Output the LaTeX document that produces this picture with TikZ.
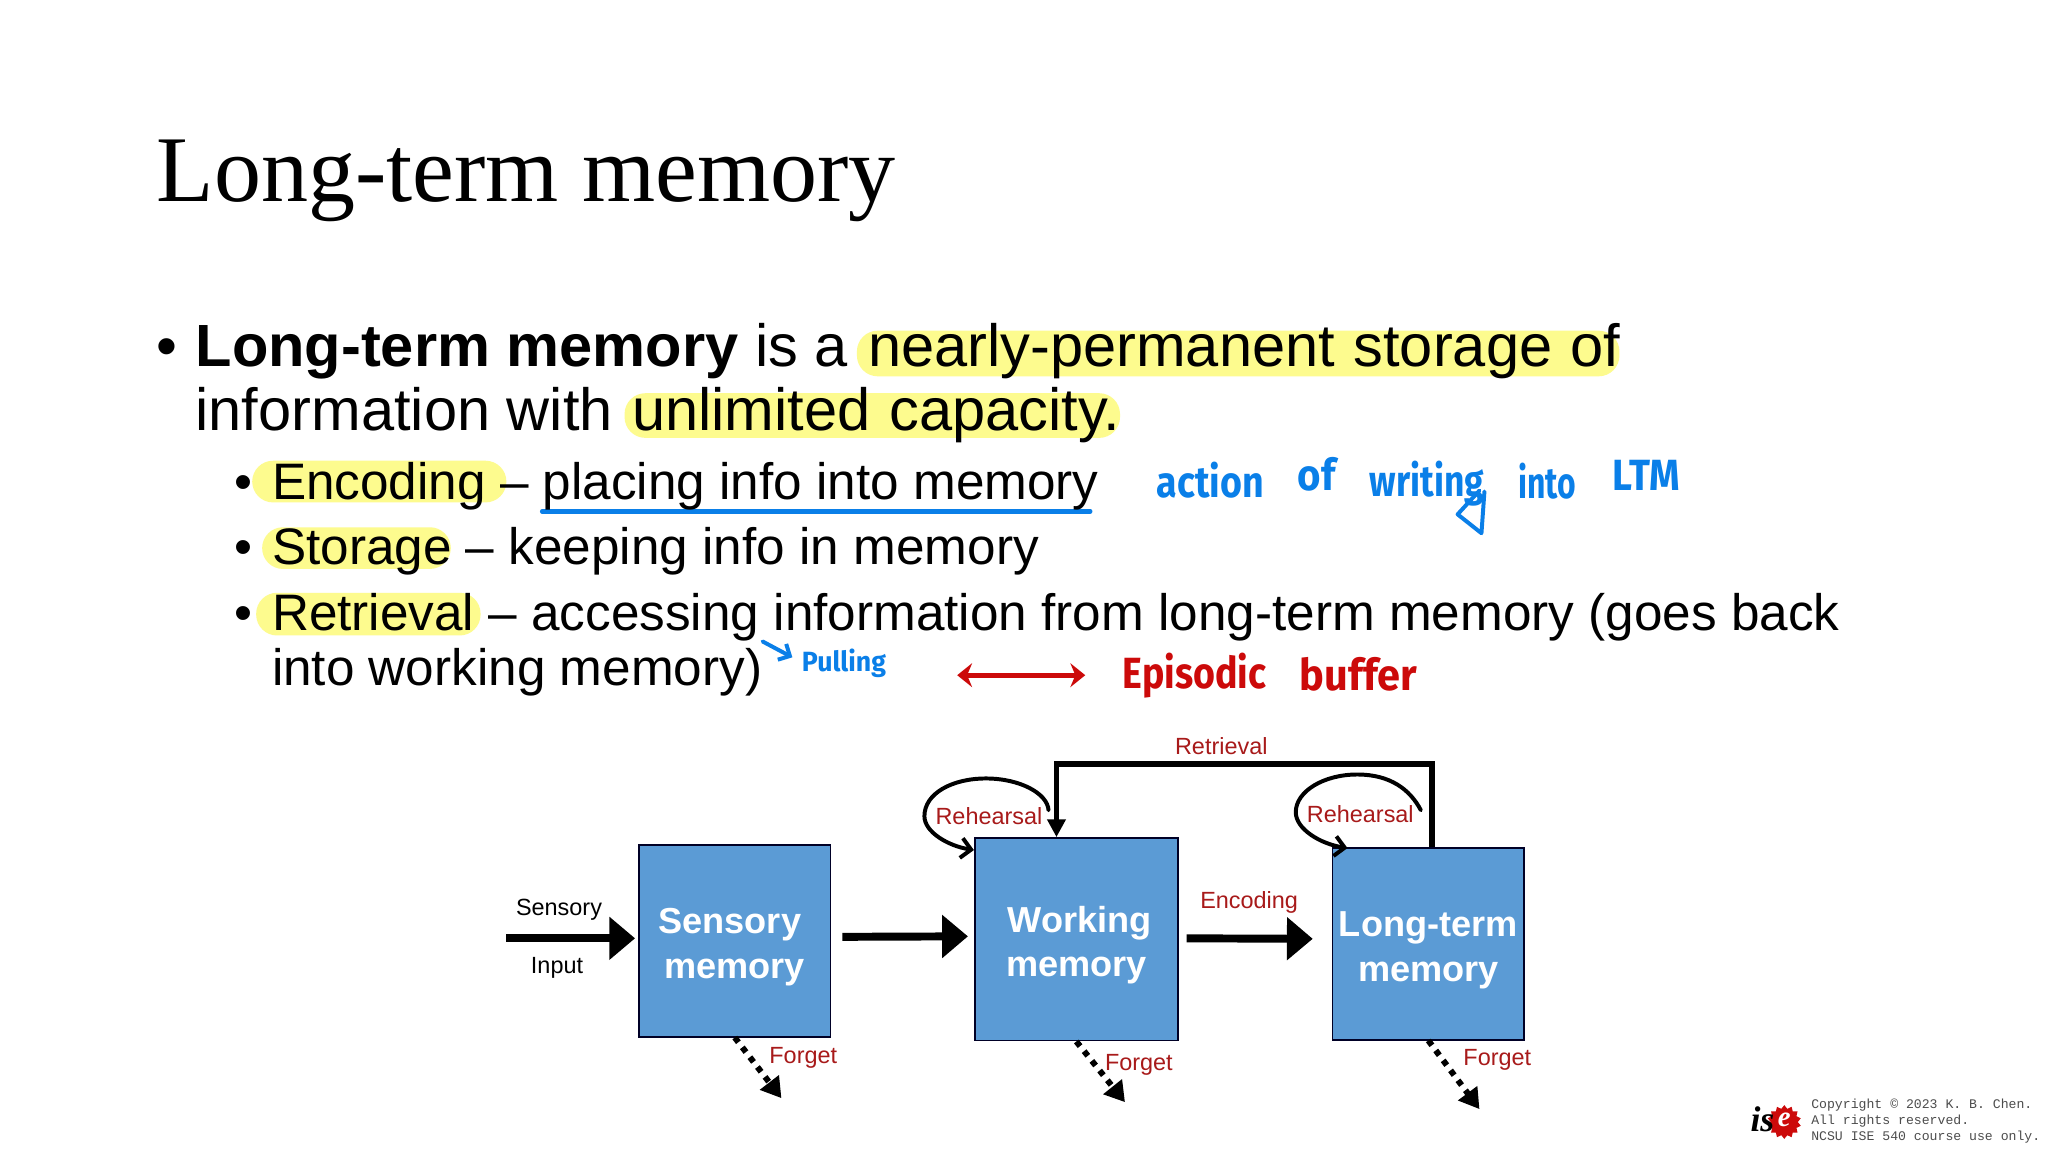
\documentclass[tikz,border=0pt]{standalone}
\usepackage{fontspec}
\usetikzlibrary{arrows.meta,shapes.geometric}
\setmainfont{Liberation Sans}
\newfontfamily\titlef{Liberation Serif}
\newfontfamily\monof{Liberation Mono}
\newfontfamily\handf{Fira Sans}
\definecolor{hly}{HTML}{FDFB8E}
\definecolor{boxb}{HTML}{5B9BD5}
\definecolor{lab}{HTML}{A81A1A}
\definecolor{inkb}{HTML}{0A7FE8}
\definecolor{inkr}{HTML}{CC0A0A}
\tikzset{
  txt/.style={anchor=base west,inner sep=0pt,outer sep=0pt},
  hl/.style={fill=hly,rounded corners=21pt},
  bodya/.style={txt,font=\fontsize{60}{66}\selectfont},
  bodyb/.style={txt,font=\fontsize{51.65}{60}\selectfont},
  bx/.style={draw=black!85!blue,line width=1.8pt,fill=boxb,text=white,inner sep=0pt,align=center,font=\fontsize{36.4}{44.7}\selectfont\bfseries},
  bigarrow/.style={line width=8pt,-{Triangle[length=26pt,width=42pt]}},
  loopa/.style={line width=4pt,line cap=round,-{Straight Barb[length=10pt,width=20pt,line width=4pt]}},
  backline/.style={line width=6pt,-{Triangle[length=18pt,width=18pt]}},
  forget/.style={line width=6pt,dash pattern=on 6pt off 6.5pt,-{Triangle[length=20pt,width=23pt]}},
  lbl/.style={text=lab,inner sep=0pt,font=\fontsize{23.6}{26}\selectfont},
  lblk/.style={text=black,inner sep=0pt,font=\fontsize{23.6}{26}\selectfont},
  handb/.style={inner sep=0pt,text=inkb,transform shape,font=\handf\bfseries\fontsize{44}{44}\selectfont},
  handr/.style={inner sep=0pt,text=inkr,transform shape,font=\handf\bfseries\fontsize{44}{44}\selectfont},
  inkstroke/.style={line width=4pt,line cap=round,line join=round},
}
\begin{document}
\begin{tikzpicture}[x=1pt,y=-1pt]
\useasboundingbox (0,0) rectangle (2062.6,1160.2);
\fill[white] (0,0) rectangle (2062.6,1160.2);
% highlights
\fill[hl] (863,333) rectangle (1631,379);
\fill[hl] (629,396) rectangle (1128,441);
\fill[hl] (254,464) rectangle (510,506);
\fill[hl] (264,531) rectangle (454,573);
\fill[hl] (258,597) rectangle (484,640);
% underline
\draw[inkb,line width=4.5pt,line cap=round] (546,515) -- (1098,515);
% title
\node[txt,font=\titlef\fontsize{94.7}{100}\selectfont] (title) at (158,203) {Long-term memory};
% body
\node[bodya] (b1) at (158,369) {•};
\node[bodya] (l1) at (197,369) {\textbf{Long-term memory} is a\hspace{4pt} nearly-permanent\hspace{2pt} storage\hspace{2pt} of};
\node[bodya] (l2) at (197,434) {information with\hspace{3pt} unlimited\hspace{2.5pt} capacity.};
\node[bodyb] (b2) at (236,503) {•};
\node[bodyb] (s1) at (274,503) {Encoding – placing info into memory};
\node[bodyb] (b3) at (236,569) {•};
\node[bodyb] (s2) at (274,569) {Storage – keeping info in memory};
\node[bodyb] (b4) at (236,634.5) {•};
\node[bodyb] (s3) at (274,634.5) {Retrieval – accessing information from long-term memory (goes back};
\node[bodyb] (s4) at (274,690) {into working memory)};
% handwriting
\node[handb,xscale=.86] (w1) at (1219,483.5) {action};
\node[handb,xscale=.92] (w2) at (1326,478) {of};
\node[handb,xscale=.81] (w3) at (1437,487) {writing};
\node[handb,xscale=.73] (w4) at (1558,485) {into};
\node[handb,xscale=.89] (w5) at (1658,479) {LTM};
\draw[inkb,inkstroke] (1495,495) -- (1492,537) -- (1468,518) -- (1490,494);
\node[handb,xscale=.96,font=\handf\bfseries\fontsize{28}{28}\selectfont] (w6) at (850,668) {Pulling};
\coordinate (pa) at (768,646);
\coordinate (pb) at (798,662);
\draw[inkb,line width=4pt,line cap=round,-{Straight Barb[length=9pt,width=18pt,line width=4pt]}] (pa) -- (pb);
\coordinate (ra) at (964,680);
\coordinate (rb) at (1093,680);
\draw[inkr,line width=5pt,{Stealth[length=15pt,width=24pt,inset=5pt]}-{Stealth[length=15pt,width=24pt,inset=5pt]}] (ra) -- (rb);
\node[handr,xscale=.86] (w7) at (1203,680) {Episodic};
\node[handr,xscale=.95] (w8) at (1368,679) {buffer};
% boxes
\node[bx,minimum width=193pt,minimum height=193pt] (sm) at (740,947.5) {\rule{0pt}{38pt}\hspace*{-10pt}Sensory\\memory};
\node[bx,minimum width=204.5pt,minimum height=204pt] (wm) at (1084,946) {\rule{0pt}{38pt}\hspace*{7pt}Working\\memory};
\node[bx,minimum width=193pt,minimum height=193pt] (ltm) at (1438.5,950.5) {\rule{0pt}{38pt}Long-term\\memory};
% arrows
\coordinate (inp) at (510,945);
\draw[bigarrow,shorten >=3pt] (inp) -- (inp -| sm.west);
\draw[bigarrow] ([xshift=11pt,yshift=4pt]sm.east) -- ([xshift=-6pt,yshift=3pt]wm.west);
\draw[bigarrow] ([xshift=8pt,yshift=1pt]wm.east) -- ([xshift=-19pt,yshift=5pt]ltm.west);
\coordinate (rt) at (1064,769);
\draw[backline] ([xshift=4pt]ltm.north) |- (rt) -- ([xshift=-20pt]wm.north);
\draw[loopa] (1056,816) .. controls (1055,799) and (1027,784) .. (993,784) .. controls (959,784) and (931,799) .. (931,822) .. controls (931,838) and (955,852) .. ([yshift=-13pt]wm.north west);
\draw[loopa] (1431,816) .. controls (1420,795) and (1400,780) .. (1367,780) .. controls (1333,780) and (1305,797) .. (1305,818) .. controls (1305,835) and (1330,850) .. ([xshift=16pt,yshift=-1pt]ltm.north west);
\coordinate (f1) at (787,1106);
\coordinate (f2) at (1133,1110);
\coordinate (f3) at (1490,1117);
\draw[forget] (sm.south) -- (f1);
\draw[forget] (wm.south) -- (f2);
\draw[forget] (ltm.south) -- (f3);
% labels
\node[lblk] (t1) at (563,916) {Sensory};
\node[lblk] (t2) at (561,975) {Input};
\node[lbl] (t3) at (1230,751) {Retrieval};
\node[lbl] (t4) at (996,822) {Rehearsal};
\node[lbl] (t5) at (1370,820) {Rehearsal};
\node[lbl] (t6) at (1258,908.5) {Encoding};
\node[lbl] (t7) at (809,1065.6) {Forget};
\node[lbl] (t8) at (1147,1072) {Forget};
\node[lbl] (t9) at (1508,1067.6) {Forget};
% logo
\node[star,star points=14,star point ratio=1.25,fill=inkr,inner sep=0pt,minimum size=34pt] (gear) at (1797,1130) {};
\node[txt,font=\titlef\bfseries\itshape\fontsize{36}{36}\selectfont] (logo) at (1763,1140) {is};
\node[inner sep=0pt,text=white,font=\titlef\bfseries\itshape\fontsize{29}{29}\selectfont] (logoe) at (1797,1128) {e};
\node[anchor=north west,inner sep=0pt,align=left,text=black!70,font=\monof\fontsize{13.25}{15.9}\selectfont] (copy) at (1824,1107) {Copyright © 2023 K. B. Chen.\\All rights reserved.\\NCSU ISE 540 course use only.};
\end{tikzpicture}
\end{document}
